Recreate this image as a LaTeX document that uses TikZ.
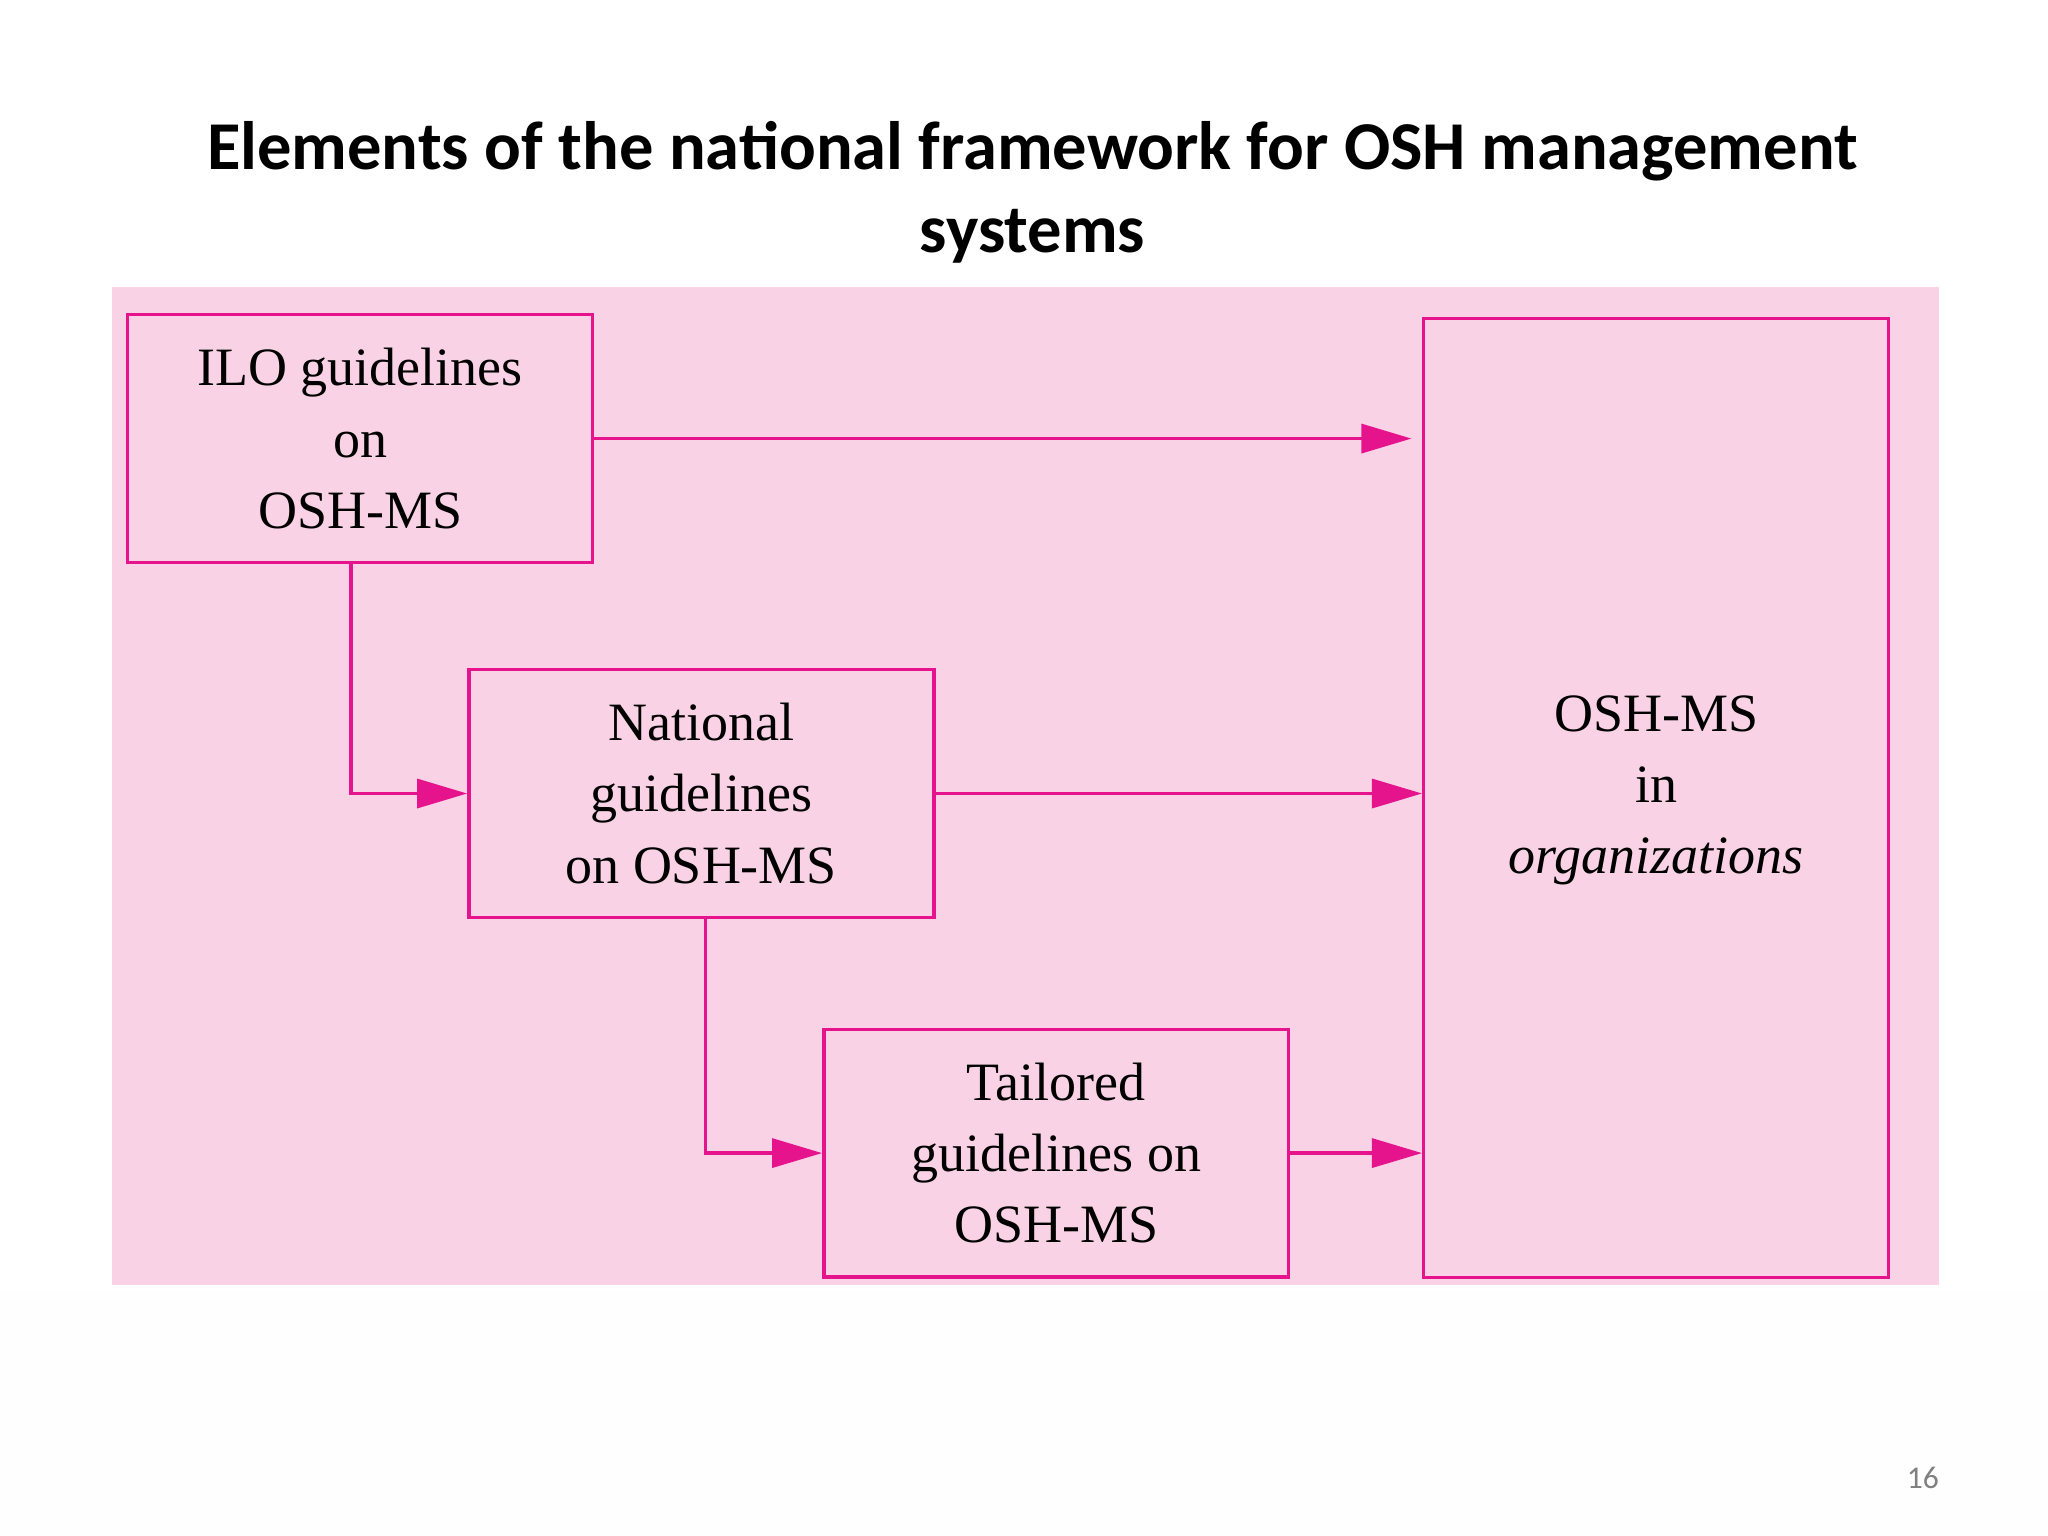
\documentclass[tikz,border=0pt]{standalone}
\usepackage{fontspec}
\setmainfont{Liberation Serif}
\newfontfamily\titlefont{Carlito}
\usetikzlibrary{arrows.meta}
\definecolor{oshpink}{RGB}{250,210,230}
\definecolor{oshmag}{RGB}{230,20,140}
\tikzset{
  box/.style={draw=oshmag, line width=2.6pt, minimum width=353pt, minimum height=188pt,
    align=center, inner sep=0pt, font=\fontsize{41}{54}\selectfont},
  flow/.style={draw=oshmag, line width=2.6pt, -{Triangle[length=38pt,width=22pt]}}
}
\begin{document}
\begin{tikzpicture}[x=1pt,y=1pt,yscale=-1]
\useasboundingbox (0,0) rectangle (1555,1166);
\fill[white!97!oshpink] (0,0) rectangle (1555,1166);
\fill[white] (0,0) rectangle (1555,980);
%background panel
\fill[oshpink] (85,218) rectangle (1472,976);
\node[font=\titlefont\bfseries\fontsize{52}{63}\selectfont, align=center] (title) at (784,146)
  {Elements of the national framework for OSH management\\systems};

\node[box] (ilo) at (273.5,333) {ILO guidelines\\on\\OSH-MS};
\node[box] (nat) at (532.5,602.5) {National\\guidelines\\on OSH-MS};
\node[box] (tai) at (802,875.5) {Tailored\\guidelines on\\OSH-MS};
\node[box, minimum height=728pt] (org) at (1257.5,606) {};
\node[font=\fontsize{41}{54}\selectfont, align=center] (orgtext) at (1257.5,600)
  {OSH-MS\\in\\\textit{organizations}};

%connectors
\draw[flow] (ilo.east) -- ([xshift=-8pt]org.west |- ilo.east);
\draw[flow] (nat.east) -- (org.west |- nat.east);
\draw[flow] (tai.east) -- (org.west |- tai.east);
\draw[flow] ([xshift=-7pt]ilo.south) |- (nat.west);
\draw[flow] ([xshift=3pt]nat.south) |- (tai.west);

\node[text=gray, font=\titlefont\fontsize{24}{28}\selectfont] (page) at (1460,1122) {16};
\end{tikzpicture}
\end{document}
